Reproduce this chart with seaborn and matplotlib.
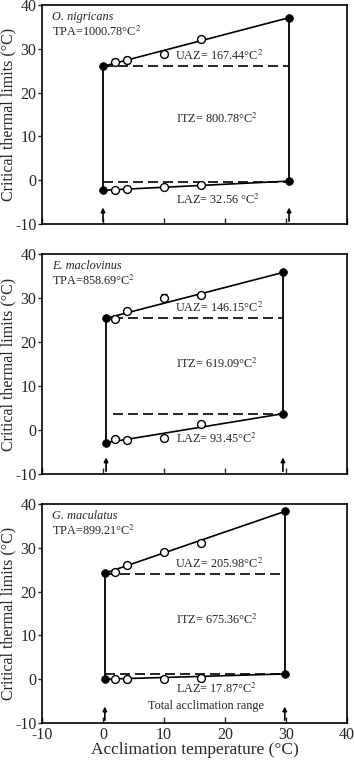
import matplotlib
matplotlib.use("Agg")
import matplotlib.pyplot as plt
import seaborn as sns
import numpy as np
import pandas as pd

sns.set_theme(style="ticks")
plt.rcParams['font.family'] = ['Liberation Serif', 'DejaVu Serif']
plt.rcParams['mathtext.fontset'] = 'stix'
plt.rcParams['axes.unicode_minus'] = False

# ---- data ----
species = ["O. nigricans", "E. maclovinus", "G. maculatus"]
tpa = ["1000.78", "858.69", "899.21"]
uaz = ["167.44", "146.15", "205.98"]
itz = ["800.78", "619.09", "675.36"]
laz = ["32.56 ", "93.45", "17.87"]

accl_x = [2, 4, 10, 16]
ctmax_open = [[27.1, 27.5, 28.7, 32.3], [25.2, 27.0, 30.1, 30.7], [24.5, 26.1, 29.0, 31.1]]
ctmax_err = [[0.6, 0.7, 0.4, 0.3], [0.5, 0.5, 0.8, 0.5], [0.3, 0.3, 0.3, 0.3]]
ctmin_open = [[-2.2, -2.1, -1.6, -1.2], [-2.1, -2.2, -1.9, 1.3], [0.0, 0.0, 0.0, 0.3]]
ctmin_err = [[0.2, 0.2, 0.2, 0.2], [0.3, 0.2, 0.6, 0.3], [0.2, 0.2, 0.2, 0.3]]

end_x = [[0.0, 30.5], [0.5, 29.5], [0.3, 29.8]]
ctmax_end = [[26.0, 37.1], [25.4, 35.8], [24.2, 38.3]]
ctmin_end = [[-2.3, -0.2], [-2.9, 3.7], [0.0, 1.2]]
dash_upper = [26.0, 25.4, 24.1]
dash_lower = [-0.3, 3.7, 1.3]
dash_start = [0.0, 1.6, 0.3]

xticks = [-10, 0, 10, 20, 30, 40]
yticks = [-10, 0, 10, 20, 30, 40]

W, H = 354, 763
fig = plt.figure(figsize=(W / 100, H / 100), dpi=100)
panel_px = [(5, 224), (254, 474), (504, 723)]
left_px, right_px = 42, 347

fs_tick = 11.5
fs_txt = 8.8
for i in range(3):
    top, bot = panel_px[i]
    ax = fig.add_axes([left_px / W, 1 - bot / H, (right_px - left_px) / W, (bot - top) / H])
    x0, x1 = end_x[i]
    # regression lines
    sns.lineplot(x=end_x[i], y=ctmax_end[i], ax=ax, color='black', lw=1.2, zorder=2)
    sns.lineplot(x=end_x[i], y=ctmin_end[i], ax=ax, color='black', lw=1.2, zorder=2)
    # vertical lines
    ax.plot([x0, x0], [ctmin_end[i][0], ctmax_end[i][0]], color='black', lw=1.3, zorder=2)
    ax.plot([x1, x1], [ctmin_end[i][1], ctmax_end[i][1]], color='black', lw=1.3, zorder=2)
    # dashed
    ax.plot([dash_start[i], x1], [dash_upper[i]] * 2, color='black', lw=1.2, ls=(0, (6, 3)), zorder=2)
    ax.plot([dash_start[i], x1], [dash_lower[i]] * 2, color='black', lw=1.2, ls=(0, (6, 3)), zorder=2)
    # error bars
    ax.errorbar(accl_x, ctmax_open[i], yerr=ctmax_err[i], fmt='none', ecolor='black', elinewidth=0.9, capsize=2.5, capthick=0.9, zorder=3)
    ax.errorbar(accl_x, ctmin_open[i], yerr=ctmin_err[i], fmt='none', ecolor='black', elinewidth=0.9, capsize=2.5, capthick=0.9, zorder=3)
    # open circles
    sns.scatterplot(x=accl_x, y=ctmax_open[i], ax=ax, marker='o', s=32, facecolor='white', edgecolor='black', linewidth=1.0, zorder=4)
    sns.scatterplot(x=accl_x, y=ctmin_open[i], ax=ax, marker='o', s=32, facecolor='white', edgecolor='black', linewidth=1.0, zorder=4)
    # filled circles
    sns.scatterplot(x=end_x[i], y=ctmax_end[i], ax=ax, marker='o', s=32, color='black', edgecolor='black', zorder=5)
    sns.scatterplot(x=end_x[i], y=ctmin_end[i], ax=ax, marker='o', s=32, color='black', edgecolor='black', zorder=5)
    # arrows
    for xa in end_x[i]:
        ax.annotate('', xy=(xa, -5.6), xytext=(xa, -10), arrowprops=dict(arrowstyle='-|>', color='black', lw=1.2, mutation_scale=6))
    # texts
    ax.text(-8.3, 37.3, species[i], style='italic', fontsize=fs_txt, va='center', ha='left')
    ax.text(-8.3, 33.9, f"TPA={tpa[i]}°C$^2$", fontsize=fs_txt, va='center', ha='left')
    ax.text(11.8, [28.3, 27.8, 26.4][i], f"UAZ= {uaz[i]}°C$^2$", fontsize=fs_txt, va='center', ha='left')
    ax.text(12.0, [14.0, 15.0, 13.5][i], f"ITZ= {itz[i]}°C$^2$", fontsize=fs_txt, va='center', ha='left')
    ax.text(12.0, [-4.4, -2.0, -2.1][i], f"LAZ= {laz[i]}°C$^2$", fontsize=fs_txt, va='center', ha='left')
    if i == 2:
        ax.text(7.3, -6.2, "Total acclimation range", fontsize=fs_txt, va='center', ha='left')

    ax.set_xlim(-10, 40)
    ax.set_ylim(-10, 40)
    ax.set_xticks(xticks)
    ax.set_yticks(yticks)
    ax.tick_params(axis='x', direction='in', length=4, width=1, labelsize=fs_tick, pad=3)
    ax.tick_params(axis='y', direction='out', length=3, width=1, labelsize=fs_tick, pad=1)
    if i < 2:
        ax.set_xticklabels([])
    else:
        ax.set_xlabel("Acclimation temperature (°C)", fontsize=12.5, labelpad=-1)
    ax.set_ylabel("Critical thermal limits (°C)", fontsize=11.5, labelpad=1)
    ax.yaxis.set_label_coords(-(left_px - 16) / (right_px - left_px), 0.5)
    for sp in ax.spines.values():
        sp.set_linewidth(1.2)
        sp.set_color('black')
    ax.set_facecolor('white')
    ax.grid(False)

fig.savefig("out.png", dpi=100, facecolor='white')
